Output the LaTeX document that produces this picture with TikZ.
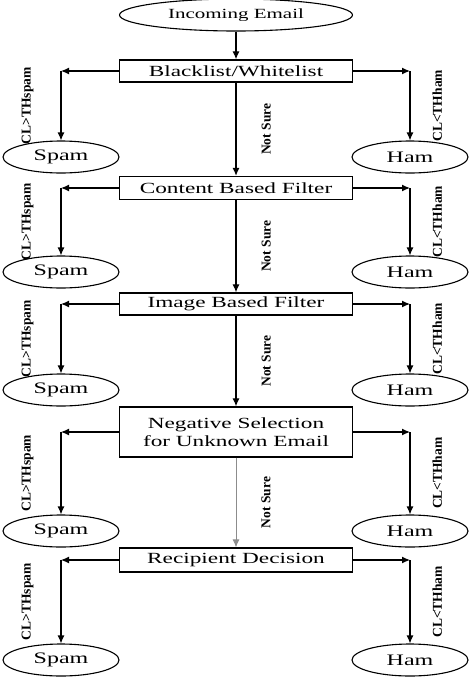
\documentclass[tikz,border=0pt]{standalone}
\usepackage{fontspec}
\setmainfont{Liberation Serif}
\newfontfamily\boxfont[FakeStretch=1.5]{Liberation Serif}
\usetikzlibrary{shapes.geometric, arrows.meta}

\tikzset{
    stage/.style={draw, line width=1.3pt, minimum width=233pt, inner sep=2pt,
        font=\boxfont\fontsize{15.5}{18}\selectfont, align=center},
    outcome/.style={draw, ellipse, line width=1.1pt, minimum width=116pt,
        minimum height=32pt, inner sep=0pt, font=\boxfont\fontsize{16}{18}\selectfont},
    flow/.style={line width=1.2pt, -{Latex[length=8pt, width=7pt]}},
    cond/.style={rotate=90, font=\bfseries\fontsize{13.5}{15}\selectfont, inner sep=0pt}
}

\begin{document}
\begin{tikzpicture}[x=1pt, y=-1pt]
    \useasboundingbox (0,0) rectangle (474,694);

    \node[outcome, minimum width=233pt, font=\boxfont\fontsize{14}{16}\selectfont] (email) at (236,15) {Incoming Email};

    \node[stage, minimum height=22pt] (bw) at (236,71) {Blacklist/Whitelist};
    \node[stage, minimum height=23pt] (cbf) at (236,188) {Content Based Filter};
    \node[stage, minimum height=22pt] (ibf) at (236,304) {Image Based Filter};
    \node[stage, minimum height=50pt] (nsel) at (236,432) {Negative Selection\\for Unknown Email};
    \node[stage, minimum height=24pt] (rd) at (236,560) {Recipient Decision};

    \draw[flow] (email) -- (bw);
    \draw[flow] (bw) -- (cbf) node[midway, xshift=25pt, cond, anchor=north] {Not Sure};
    \draw[flow] (cbf) -- (ibf) node[midway, xshift=25pt, cond, anchor=north] {Not Sure};
    \draw[flow] (ibf) -- (nsel) node[midway, xshift=25pt, cond, anchor=north] {Not Sure};
    \draw[flow, draw=black!45, line width=0.8pt] (nsel) -- (rd) node[midway, xshift=25pt, cond, anchor=north, text=black] {Not Sure};

    % spam / ham branches of every stage
    \foreach \b/\sy/\i in {bw/157/1, cbf/272/2, ibf/390/3, nsel/531/4, rd/660/5} {
        \node[outcome] (spam\i) at (61,\sy) {Spam};
        \node[outcome] (ham\i) at (410,\sy) {Ham};
        \coordinate (sl\i) at (spam\i.north |- \b.west);
        \coordinate (hr\i) at (ham\i.north |- \b.east);
        \draw[flow] (\b.west) -- (sl\i);
        \draw[flow] (sl\i) -- (spam\i.north)
            node[midway, xshift=-27pt, cond, anchor=south] {CL>THspam};
        \draw[flow] (\b.east) -- (hr\i);
        \draw[flow] (hr\i) -- (ham\i.north)
            node[midway, xshift=22pt, cond, anchor=north] {CL<THham};
    }
\end{tikzpicture}
\end{document}
